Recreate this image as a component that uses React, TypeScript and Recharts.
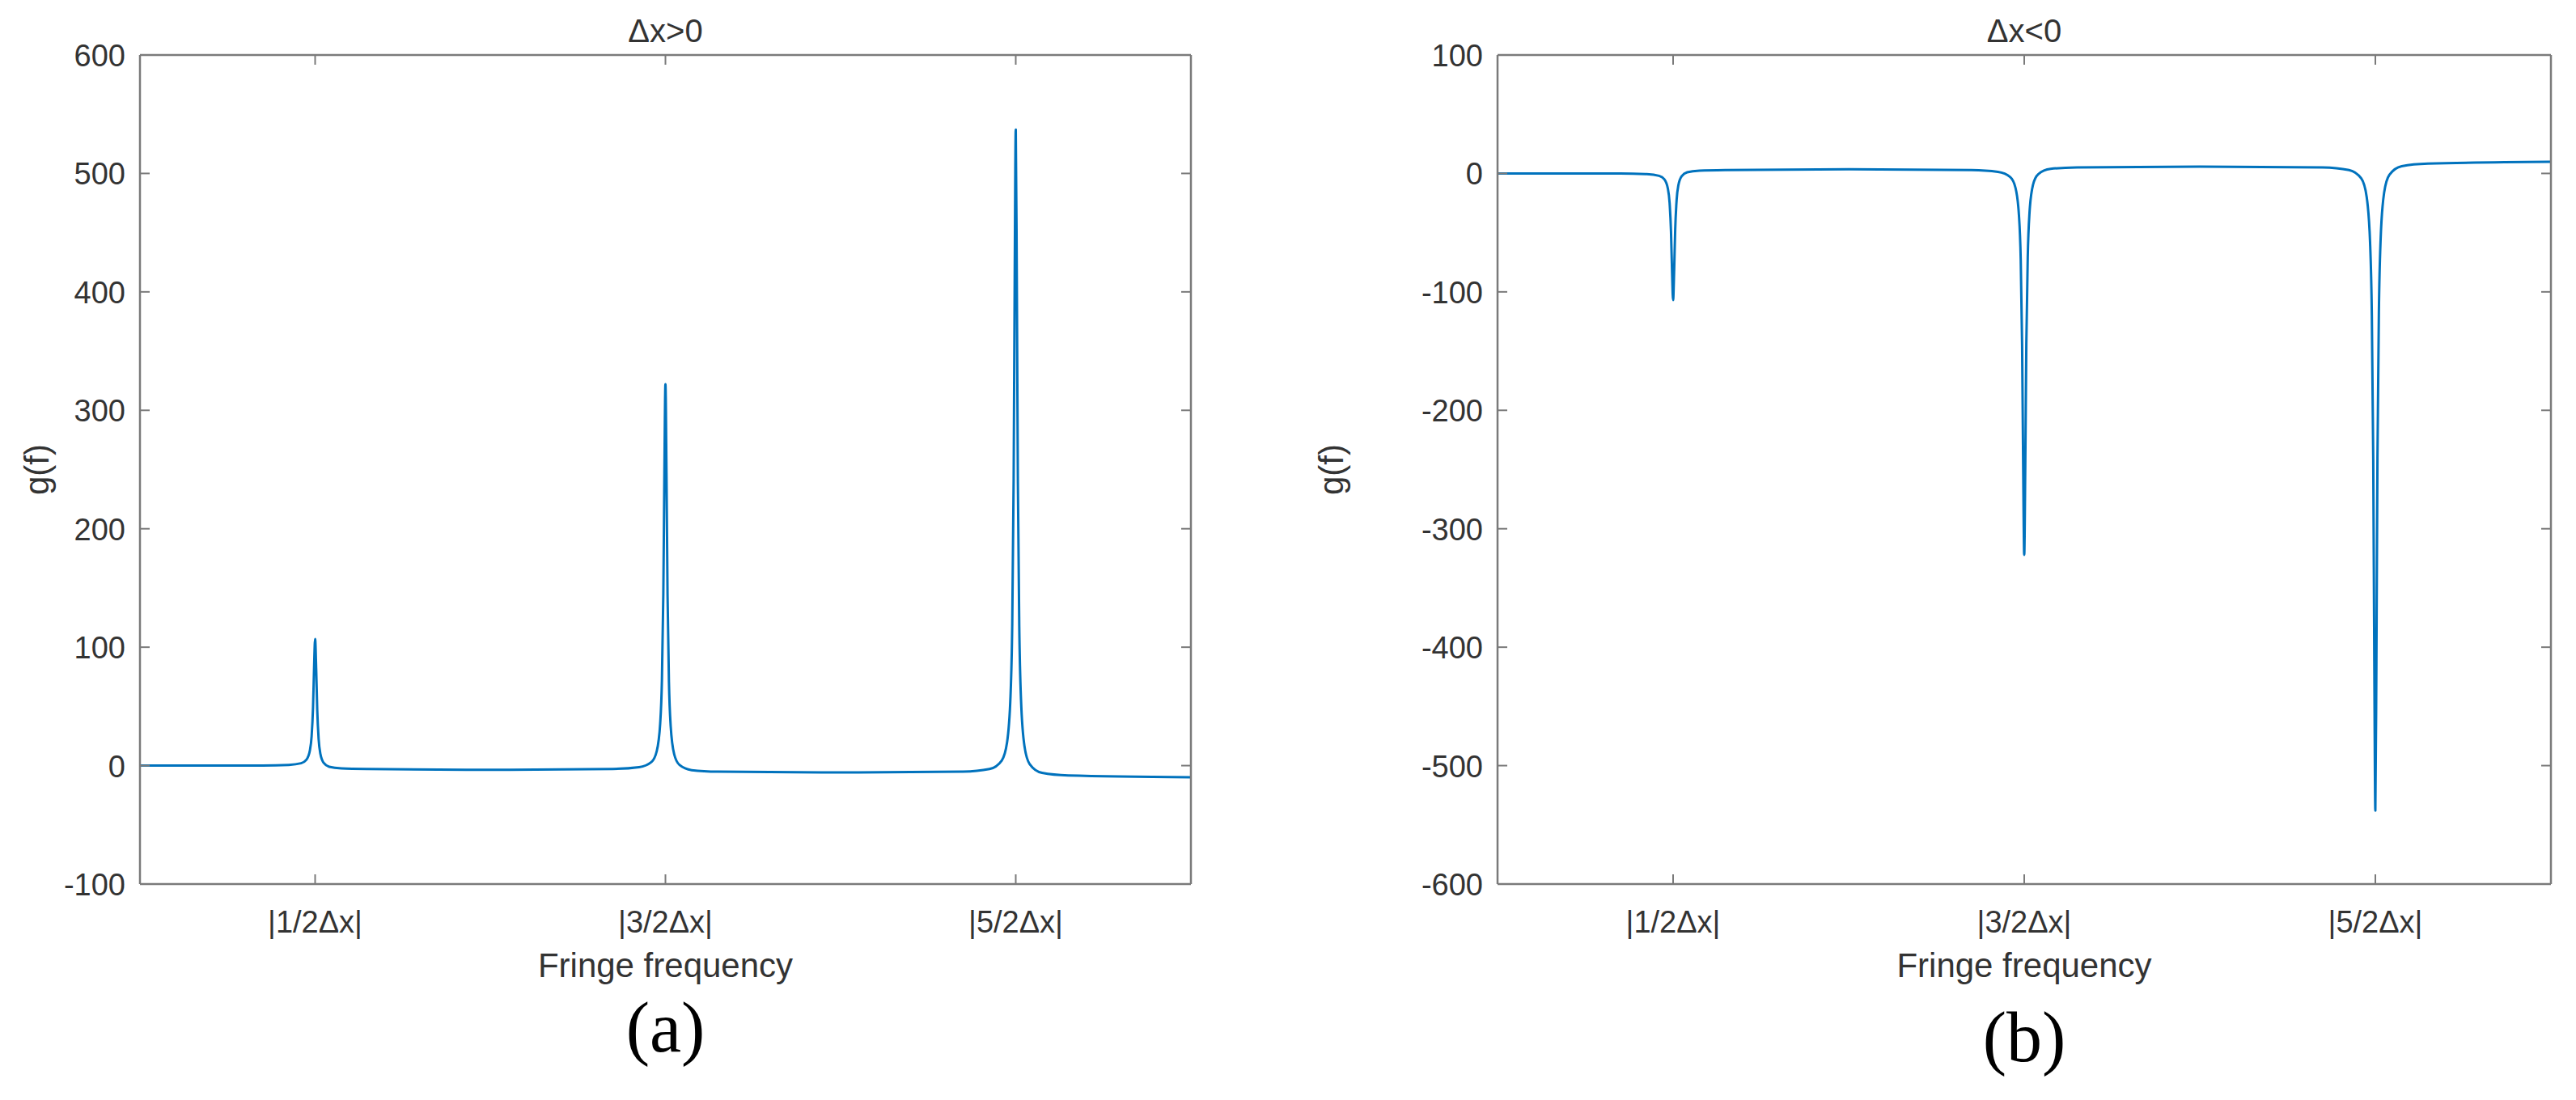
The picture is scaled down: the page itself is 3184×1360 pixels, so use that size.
import { Label, Line, LineChart, XAxis, YAxis } from 'recharts';

// fringe frequency, in units of 1/(2|Δx|)
const freq = [
  0, 0.5, 0.7, 0.85, 0.92, 0.95, 0.97, 0.98, 0.988, 0.994, 1.0, 1.006, 1.012, 1.02, 1.03, 1.05, 1.08, 1.15, 1.3,
  2.0, 2.7, 2.85, 2.92, 2.95, 2.97, 2.98, 2.988, 2.994, 3.0, 3.006, 3.012, 3.02, 3.03, 3.05, 3.08, 3.15, 3.3,
  4.0, 4.7, 4.85, 4.92, 4.95, 4.97, 4.98, 4.988, 4.994, 5.0, 5.006, 5.012, 5.02, 5.03, 5.05, 5.08, 5.15, 5.3, 6.0,
];

// g(f) for Δx > 0
const gPositive = [
  0, 0.1, 0.1, 0.6, 2.0, 4.9, 12.7, 24.8, 48.9, 82.5, 107, 81.8, 47.3, 22.5, 10.0, 2.1, -1.0, -2.4, -2.9,
  -3.5, -2.8, -1.3, 3.0, 12.0, 35.5, 72.4, 145.5, 247.6, 322, 247.0, 144.2, 70.5, 33.3, 9.6, 0.6, -3.8, -5.1,
  -5.8, -5.1, -2.9, 4.3, 19.3, 58.5, 120.1, 242.3, 412.7, 537, 412, 240.5, 117.7, 55.7, 16.2, 1.2, -6.1, -8.3, -9.8,
];

// g(f) for Δx < 0
const gNegative = [
  0, -0.1, -0.1, -0.6, -2.0, -4.9, -12.7, -24.8, -48.9, -82.5, -107, -81.8, -47.3, -22.5, -10.0, -2.1, 1.0, 2.4, 2.9,
  3.5, 2.8, 1.3, -3.0, -12.0, -35.5, -72.4, -145.5, -247.6, -322, -247.0, -144.2, -70.5, -33.3, -9.6, -0.6, 3.8, 5.1,
  5.8, 5.1, 2.9, -4.3, -19.3, -58.5, -120.1, -242.3, -412.7, -538, -412, -240.5, -117.7, -55.7, -16.2, -1.2, 6.1, 8.3, 9.8,
];

const xTicks = [1, 3, 5];
const xTickLabels: Record<number, string> = { 1: '|1/2Δx|', 3: '|3/2Δx|', 5: '|5/2Δx|' };
const yTicksPositive = [-100, 0, 100, 200, 300, 400, 500, 600];
const yTicksNegative = [-600, -500, -400, -300, -200, -100, 0, 100];

const AXIS_COLOR = '#7a7a7a';
const TEXT_COLOR = '#333333';
const LINE_COLOR = '#0072BD';
const FONT = '"Liberation Sans", Arial, Helvetica, sans-serif';
const SERIF = '"Liberation Serif", "Times New Roman", serif';
const TICK_LEN = 12;
const TICK_FONT = 38;
const LABEL_FONT = 42;

const BottomTick = (props: any) => {
  const { x, y, payload } = props;
  return (
    <g>
      <line x1={x} y1={y} x2={x} y2={y - TICK_LEN} stroke={AXIS_COLOR} strokeWidth={2} />
      <text x={x} y={y + 60} textAnchor="middle" fill={TEXT_COLOR} fontSize={TICK_FONT} fontFamily={FONT}>
        {xTickLabels[payload.value]}
      </text>
    </g>
  );
};

const TopTick = (props: any) => {
  const { x, y } = props;
  return <line x1={x} y1={y} x2={x} y2={y + TICK_LEN} stroke={AXIS_COLOR} strokeWidth={2} />;
};

const LeftTick = (props: any) => {
  const { x, y, payload } = props;
  return (
    <g>
      <line x1={x} y1={y} x2={x + TICK_LEN} y2={y} stroke={AXIS_COLOR} strokeWidth={2} />
      <text x={x - 18} y={y + 14} textAnchor="end" fill={TEXT_COLOR} fontSize={TICK_FONT} fontFamily={FONT}>
        {payload.value}
      </text>
    </g>
  );
};

const RightTick = (props: any) => {
  const { x, y } = props;
  return <line x1={x} y1={y} x2={x - TICK_LEN} y2={y} stroke={AXIS_COLOR} strokeWidth={2} />;
};

interface PanelProps {
  values: number[];
  yTicks: number[];
  yDomain: [number, number];
  title: string;
  caption: string;
  captionDy: number;
  yLabelDx: number;
  margin: { top: number; right: number; bottom: number; left: number };
}

const Panel = ({ values, yTicks, yDomain, title, caption, captionDy, yLabelDx, margin }: PanelProps) => {
  const data = freq.map((f, i) => ({ f, g: values[i] }));
  const axisLine = { stroke: AXIS_COLOR, strokeWidth: 2.5 };

  // axes get a 1px band (a 0px axis is not drawn at all), margins are reduced to match
  return (
    <LineChart width={1592} height={1360} data={data} margin={margin}>
      <XAxis
        dataKey="f"
        type="number"
        domain={[0, 6]}
        ticks={xTicks}
        interval={0}
        height={1}
        tickSize={0}
        tickMargin={0}
        axisLine={axisLine}
        tick={<BottomTick />}
        allowDataOverflow
      >
        <Label
          content={(p: any) => (
            <text
              x={p.viewBox.x + p.viewBox.width / 2}
              y={p.viewBox.y + 115}
              textAnchor="middle"
              fill={TEXT_COLOR}
              fontSize={LABEL_FONT}
              fontFamily={FONT}
            >
              Fringe frequency
            </text>
          )}
        />
        <Label
          content={(p: any) => (
            <text
              x={p.viewBox.x + p.viewBox.width / 2}
              y={p.viewBox.y + captionDy}
              textAnchor="middle"
              fill="#000"
              fontSize={88}
              fontFamily={SERIF}
            >
              {caption}
            </text>
          )}
        />
      </XAxis>
      <XAxis
        xAxisId="top"
        orientation="top"
        dataKey="f"
        type="number"
        domain={[0, 6]}
        ticks={xTicks}
        interval={0}
        height={1}
        tickSize={0}
        tickMargin={0}
        axisLine={axisLine}
        tick={<TopTick />}
        allowDataOverflow
      >
        <Label
          content={(p: any) => (
            <text
              x={p.viewBox.x + p.viewBox.width / 2}
              y={p.viewBox.y - 15}
              textAnchor="middle"
              fill={TEXT_COLOR}
              fontSize={40}
              fontFamily={FONT}
            >
              {title}
            </text>
          )}
        />
      </XAxis>
      <YAxis
        type="number"
        domain={yDomain}
        ticks={yTicks}
        interval={0}
        width={1}
        tickSize={0}
        tickMargin={0}
        axisLine={axisLine}
        tick={<LeftTick />}
        allowDataOverflow
      >
        <Label
          content={(p: any) => {
            const cx = p.viewBox.x - yLabelDx;
            const cy = p.viewBox.y + p.viewBox.height / 2;
            return (
              <text
                x={cx}
                y={cy}
                transform={`rotate(-90, ${cx}, ${cy})`}
                textAnchor="middle"
                fill={TEXT_COLOR}
                fontSize={LABEL_FONT}
                fontFamily={FONT}
              >
                g(f)
              </text>
            );
          }}
        />
      </YAxis>
      <YAxis
        yAxisId="right"
        orientation="right"
        type="number"
        domain={yDomain}
        ticks={yTicks}
        interval={0}
        width={1}
        tickSize={0}
        tickMargin={0}
        axisLine={axisLine}
        tick={<RightTick />}
        allowDataOverflow
      />
      <Line
        type="monotoneX"
        dataKey="g"
        stroke={LINE_COLOR}
        strokeWidth={3}
        strokeLinejoin="round"
        dot={false}
        activeDot={false}
        isAnimationActive={false}
      />
    </LineChart>
  );
};

const App = () => {
  return (
    <div style={{ position: 'absolute', left: 0, top: 0, width: 3184, height: 1360, background: '#fff', display: 'flex' }}>
      <Panel
        values={gPositive}
        yTicks={yTicksPositive}
        yDomain={[-100, 600]}
        title="Δx>0"
        caption="(a)"
        captionDy={207}
        yLabelDx={112}
        margin={{ top: 67, right: 119, bottom: 266, left: 172 }}
      />
      <Panel
        values={gNegative}
        yTicks={yTicksNegative}
        yDomain={[-600, 100]}
        title="Δx<0"
        caption="(b)"
        captionDy={219}
        yLabelDx={190}
        margin={{ top: 67, right: 30, bottom: 266, left: 258 }}
      />
    </div>
  );
};

export default App;
